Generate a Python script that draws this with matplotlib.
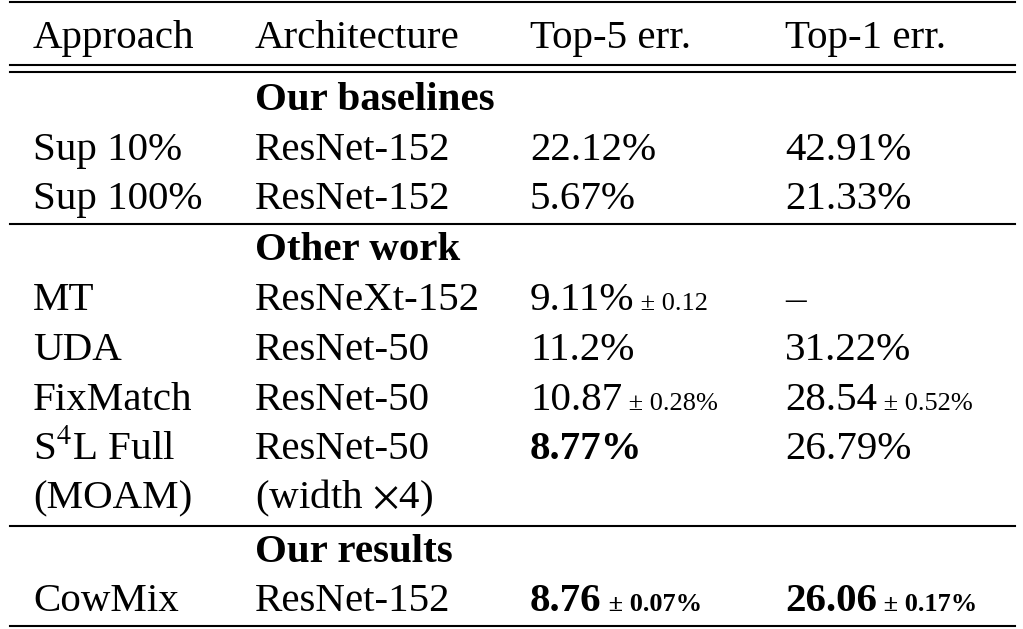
import matplotlib.pyplot as plt

plt.rcParams['font.family'] = ['Liberation Serif', 'DejaVu Serif']
plt.rcParams['mathtext.fontset'] = 'stix'

header = ["Approach", "Architecture", "Top-5 err.", "Top-1 err."]
approach = ["Sup 10%", "Sup 100%", "MT", "UDA", "FixMatch", "S$^4$L Full", "(MOAM)", "CowMix"]
arch = ["ResNet-152", "ResNet-152", "ResNeXt-152", "ResNet-50", "ResNet-50", "ResNet-50", "(width $\\times$4)", "ResNet-152"]
# each cell: list of (text, small, bold)
top5 = [[("22.12%", 0, 0)], [("5.67%", 0, 0)], [("9.11%", 0, 0), (" ± 0.12", 1, 0)],
        [("11.2%", 0, 0)], [("10.87", 0, 0), (" ± 0.28%", 1, 0)], [("8.77%", 0, 1)], [],
        [("8.76", 0, 1), (" ± 0.07%", 1, 1)]]
top1 = [[("42.91%", 0, 0)], [("21.33%", 0, 0)], [("–", 0, 0)], [("31.22%", 0, 0)],
        [("28.54", 0, 0), (" ± 0.52%", 1, 0)], [("26.79%", 0, 0)], [],
        [("26.06", 0, 1), (" ± 0.17%", 1, 1)]]
sections = ["Our baselines", "Other work", "Our results"]

fig = plt.figure(figsize=(10.23, 6.29), dpi=100)
ax = fig.add_axes([0, 0, 1, 1])
ax.set_xlim(0, 1023)
ax.set_ylim(629, 0)
ax.axis('off')
renderer = fig.canvas.get_renderer()

cols = [33, 255, 530, 785]
big, small = 29.5, 19

def seq(x, y, parts):
    for s, sm, b in parts:
        t = ax.text(x, y, s, fontsize=small if sm else big,
                    fontweight='bold' if b else 'normal', va='baseline')
        x += t.get_window_extent(renderer).width

for c, h in zip(cols, header):
    ax.text(c, 48, h, fontsize=big, va='baseline')

for yy, lw in [(2, 1.5), (65, 1.5), (72, 1.5), (224, 1.5), (526, 1.5), (626, 1.5)]:
    ax.plot([10, 1015], [yy, yy], color='black', lw=lw)

sec_y = [110, 260, 562]
row_y = [160, 209, 310, 360, 410, 459, 508, 611]
for s, y in zip(sections, sec_y):
    ax.text(cols[1], y, s, fontsize=big, fontweight='bold', va='baseline')
for i, y in enumerate(row_y):
    ax.text(cols[0], y, approach[i], fontsize=big, va='baseline')
    ax.text(cols[1], y, arch[i], fontsize=big, va='baseline')
    seq(cols[2], y, top5[i])
    seq(cols[3], y, top1[i])

fig.savefig("out.png", dpi=100)
